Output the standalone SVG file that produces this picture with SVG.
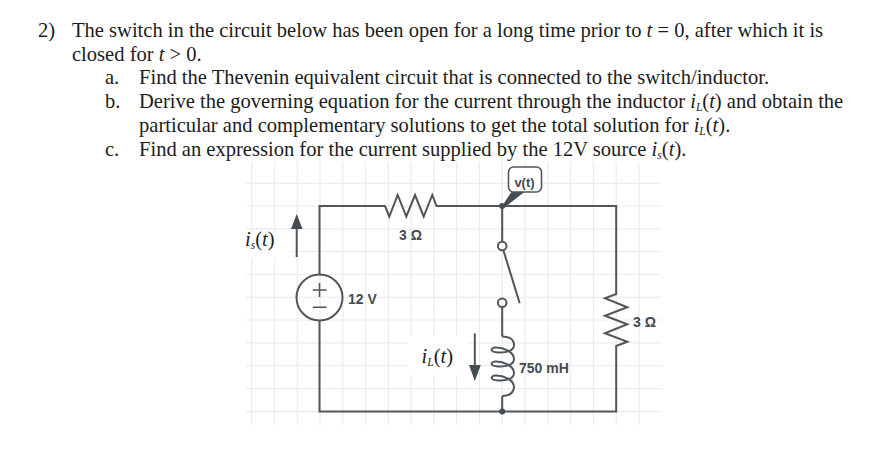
<svg xmlns="http://www.w3.org/2000/svg" width="890" height="461" viewBox="0 0 890 461">
<style>
.q{font-family:"Liberation Serif","Times New Roman",serif;font-size:20.55px;fill:#1c1c1c}
.i{font-style:italic}
.s{font-size:11.5px}
.m{font-family:"Liberation Sans",Arial,sans-serif;font-size:14px;font-weight:700;fill:#454c52}
.g{stroke:#ececec;stroke-width:1.2;fill:none}
.w{stroke:#50565b;stroke-width:2;fill:none}
.d{fill:#454c52}
</style>
<rect width="890" height="461" fill="#fff"/>
<g id="grid"><path class="g" d="M251.7 162V425M274.5 162V425M297.3 162V425M320 162V425M342.8 162V425M365.5 162V425M388.3 162V425M411 162V425M433.8 162V425M456.6 162V425M479.4 162V425M502.2 162V425M525 162V425M547.8 162V425M570.6 162V425M593.4 162V425M616.2 162V425M639 162V425M246 183.3H661M246 206H661M246 228.9H661M246 251.7H661M246 274.5H661M246 297.3H661M246 320H661M246 342.9H661M246 365.7H661M246 388.6H661M246 411.6H661"/></g>
<rect x="238" y="231" width="52" height="27" fill="#fff"/>
<rect x="408" y="336" width="60" height="39" fill="#fff"/>
<g id="connectors">
<path class="w" d="M319.5 274.5V206H385L389.3 216.5 397.7 195 406.3 216.5 415 195 423.7 216.5 432.3 195 436.5 206H616.2V294L605 298.3 627.3 307.3 605 315.7 627.3 324.3 605 333.3 627.3 341.7 616.2 346V411.6H319.5V320.5"/>
<path class="w" d="M502.2 206V241.5M502.2 307.5V336.5M502.2 396V411.6"/>
<path class="w" d="M503.3 250L519.7 303.3"/>
<path class="w" d="M502.2 336.5C510 336.5 514 340 514 345C514 351 506 353 498 352.5C490 352 490 348 495 347.5C503 347 514 352 514 359C514 365 506 367 498 366.5C490 366 490 362 495 361.5C503 361 514 366 514 373C514 379 506 381 498 380.5C490 380 490 376 495 375.5C503 375 514 380 514 387C514 392 510 396 502.2 396"/>
<path class="w" d="M296.7 257V226"/><path class="d" d="M296.7 214L302.5 229H291Z"/>
<path class="w" d="M474.8 333.5V368"/><path class="d" d="M474.8 381L469 365H480.8Z"/>
</g>
<g id="source"><circle class="w" cx="319.5" cy="297.5" r="23" fill="#fff"/><path d="M312.7 290H326.7M312.7 307.3H326.7M319.5 283V297" stroke="#50565b" stroke-width="1.6" fill="none"/><text class="m" x="348" y="304.3">12 V</text></g>
<g id="r1"><text class="m" x="399" y="239.7">3 Ω</text></g>
<g id="r2"><text class="m" x="633" y="327">3 Ω</text></g>
<g id="l1"><text class="m" x="519" y="373">750 mH</text></g>
<g id="switch"><circle class="w" cx="502.2" cy="246" r="4.3" fill="#fff"/><circle class="w" cx="502.2" cy="302.8" r="4.3" fill="#fff"/></g>
<g id="probe"><path class="d" d="M502.2 206L511.7 191.5H525L504 208Z"/><circle class="d" cx="502.2" cy="206" r="3"/><rect x="508.5" y="167" width="33" height="25" rx="5" fill="#fff" stroke="#50565b" stroke-width="1.6"/><text class="m" x="524.5" y="187" text-anchor="middle" style="font-size:13px">v(t)</text></g>
<circle id="j2" class="d" cx="502.2" cy="411.6" r="3"/>
<g id="labels">
<text class="q" x="245" y="246"><tspan class="i">i</tspan><tspan class="i s" dy="3">s</tspan><tspan dy="-3">(</tspan><tspan class="i">t</tspan>)</text>
<text class="q" x="421.5" y="363"><tspan class="i">i</tspan><tspan class="i s" dy="3">L</tspan><tspan dy="-3">(</tspan><tspan class="i">t</tspan>)</text>
</g>
<g id="question">
<text class="q" x="38" y="37">2)</text>
<text class="q" x="72" y="37">The switch in the circuit below has been open for a long time prior to <tspan class="i">t</tspan> = 0, after which it is</text>
<text class="q" x="72" y="61">closed for <tspan class="i">t</tspan> &gt; 0.</text>
<text class="q" x="105" y="84">a.</text>
<text class="q" x="139" y="84">Find the Thevenin equivalent circuit that is connected to the switch/inductor.</text>
<text class="q" x="105" y="108">b.</text>
<text class="q" x="139" y="108">Derive the governing equation for the current through the inductor <tspan class="i">i</tspan><tspan class="i s" dy="3">L</tspan><tspan dy="-3">(</tspan><tspan class="i">t</tspan>) and obtain the</text>
<text class="q" x="139" y="132">particular and complementary solutions to get the total solution for <tspan class="i">i</tspan><tspan class="i s" dy="3">L</tspan><tspan dy="-3">(</tspan><tspan class="i">t</tspan>).</text>
<text class="q" x="105" y="156">c.</text>
<text class="q" x="139" y="156">Find an expression for the current supplied by the 12V source <tspan class="i">i</tspan><tspan class="i s" dy="3">s</tspan><tspan dy="-3">(</tspan><tspan class="i">t</tspan>).</text>
</g>
</svg>
